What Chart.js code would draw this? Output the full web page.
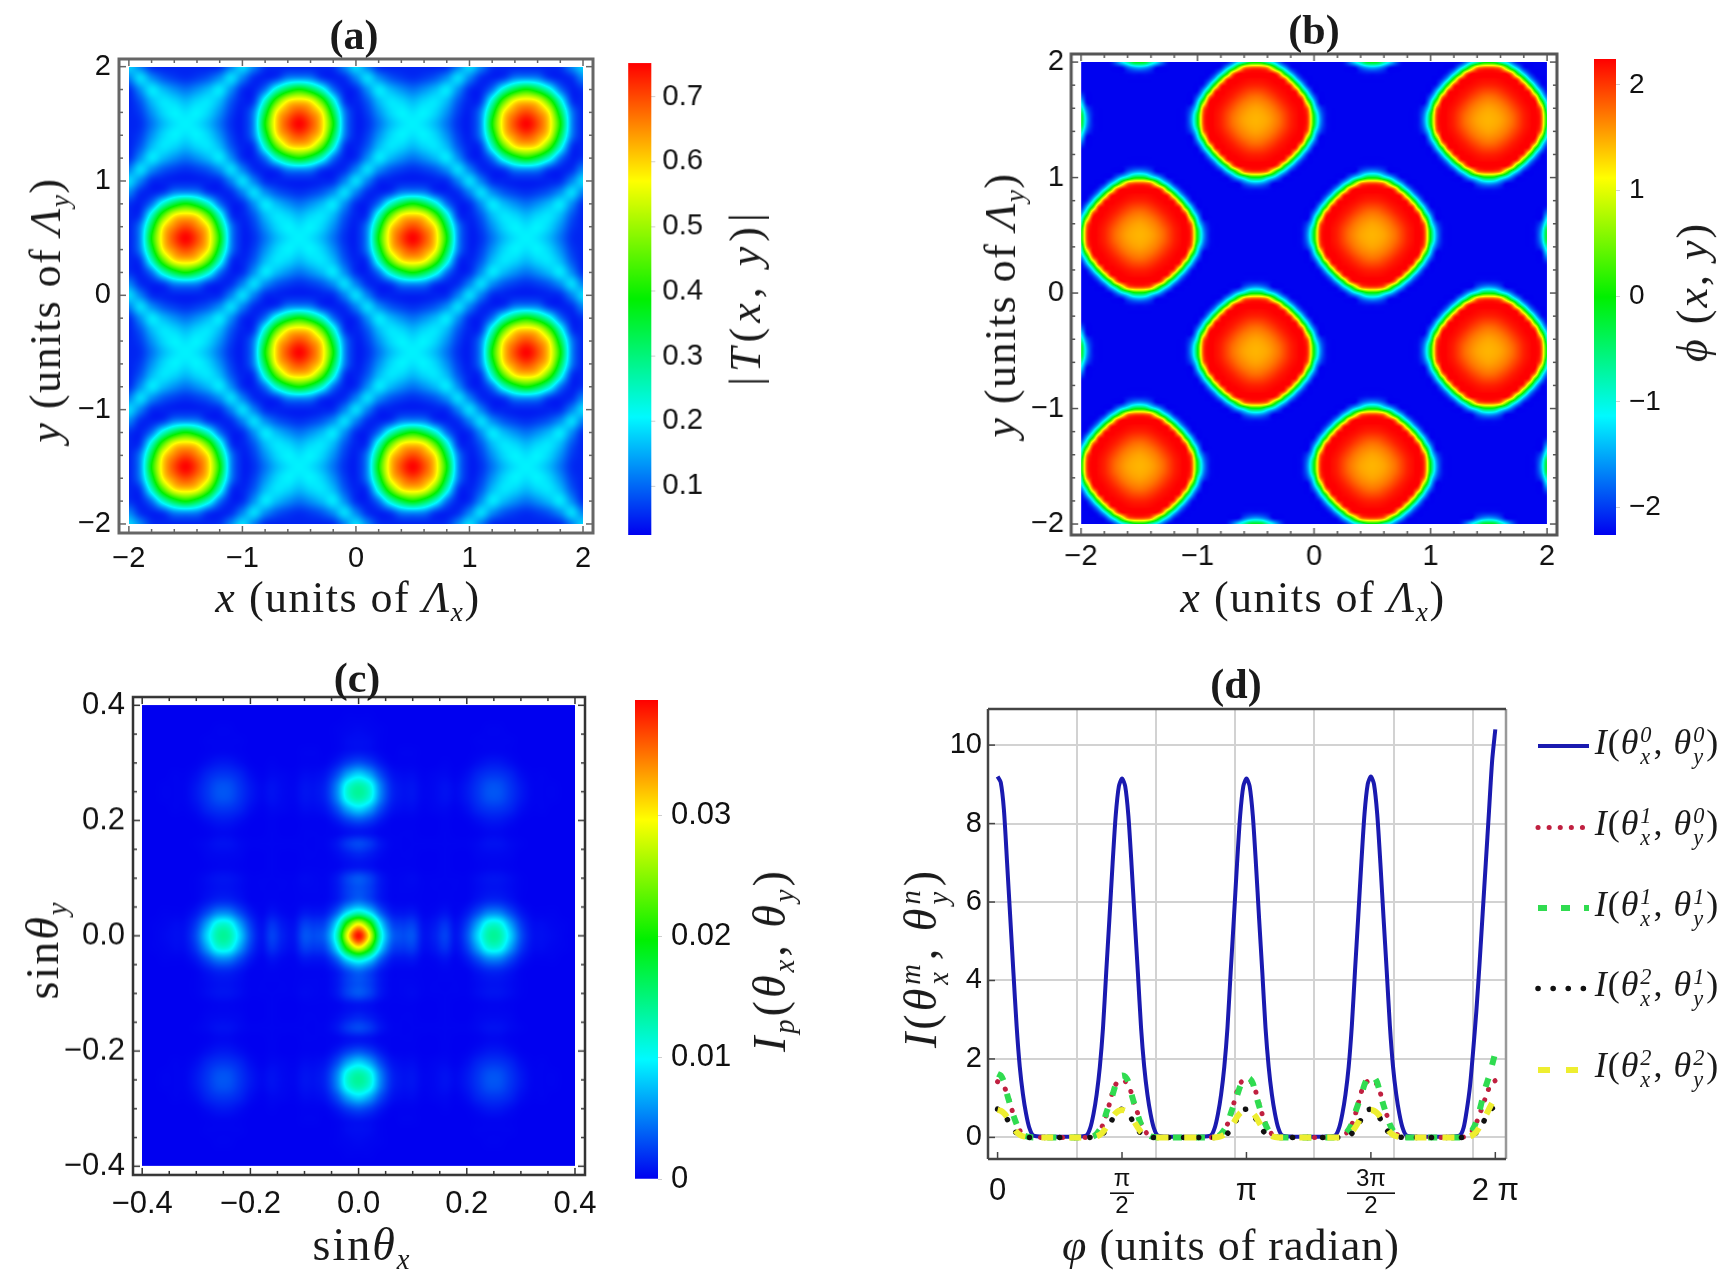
<!DOCTYPE html>
<html>
<head>
<meta charset="utf-8">
<title>Transmission, phase, far field and diffraction orders</title>
<script src="https://cdn.jsdelivr.net/npm/chart.js@4"></script>
<style>
  html, body { margin: 0; padding: 0; background: #fff; }
  #page { position: relative; width: 1724px; height: 1278px; overflow: hidden; background: #fff; }
  #page canvas { position: absolute; }
  .txt { position: absolute; white-space: nowrap; font-family: "Liberation Serif", serif; color: #1a1a1a; line-height: 1; }
  .txt i { font-style: italic; }
  .txt sub { font-size: 62%; vertical-align: baseline; position: relative; top: 0.32em; font-style: italic; }
  .ss { display: inline-flex; flex-direction: column; vertical-align: middle; font-size: 62%; line-height: 0.98; font-style: italic; margin: 0 1px; }
</style>
</head>
<body>
<div id="page"></div>
<script>
// Tick positions and labels
var unitTicks = [-2, -1, 0, 1, 2];
var unitTickLabels = ['\u22122', '\u22121', '0', '1', '2'];
var unitMinorTicks = [-1.8, -1.6, -1.4, -1.2, -0.8, -0.6, -0.4, -0.2, 0.2, 0.4, 0.6, 0.8, 1.2, 1.4, 1.6, 1.8];
var sinTicks = [-0.4, -0.2, 0, 0.2, 0.4];
var sinTickLabels = ['\u22120.4', '\u22120.2', '0.0', '0.2', '0.4'];
var sinMinorTicks = [-0.35, -0.3, -0.25, -0.15, -0.1, -0.05, 0.05, 0.1, 0.15, 0.25, 0.3, 0.35];

var transmissionBarTicks = [0.1, 0.2, 0.3, 0.4, 0.5, 0.6, 0.7];
var transmissionBarLabels = ['0.1', '0.2', '0.3', '0.4', '0.5', '0.6', '0.7'];
var phaseBarTicks = [-2, -1, 0, 1, 2];
var phaseBarLabels = ['\u22122', '\u22121', '0', '1', '2'];
var intensityBarTicks = [0, 0.01, 0.02, 0.03];
var intensityBarLabels = ['0', '0.01', '0.02', '0.03'];

var phiTicks = [0, 1.5708, 3.1416, 4.7124, 6.2832];
var phiTickLabels = ['0', ['\u03c0', '\u2014', '2'], '\u03c0', ['3\u03c0', '\u2014\u2014', '2'], '2 \u03c0'];
var phiGridLines = [1, 2, 3, 4, 5, 6];
var intensityTicks = [0, 2, 4, 6, 8, 10];

// |T(x,y)| between a bright spot (top left) and the next one (bottom right), step 0.1
var transmissionTile = [
  [.75, .70, .60, .39, .13, .05, .06, .11, .16, .19, .20],
  [.70, .66, .57, .34, .12, .05, .07, .13, .18, .20, .19],
  [.60, .57, .44, .24, .07, .05, .09, .16, .19, .18, .16],
  [.39, .34, .24, .11, .05, .06, .13, .19, .16, .13, .11],
  [.13, .12, .07, .05, .06, .12, .18, .13, .09, .07, .06],
  [.05, .05, .05, .06, .12, .18, .12, .06, .05, .05, .05],
  [.06, .07, .09, .13, .18, .12, .06, .05, .07, .12, .13],
  [.11, .13, .16, .19, .13, .06, .05, .11, .24, .34, .39],
  [.16, .18, .19, .16, .09, .05, .07, .24, .44, .57, .60],
  [.19, .20, .18, .13, .07, .05, .12, .34, .57, .66, .70],
  [.20, .19, .16, .11, .06, .05, .13, .39, .60, .70, .75]
];

// phi(x,y) over one quarter of a phase island, centre at top left, step 0.05
var phaseIsland = [
  [1.45, 1.47, 1.52, 1.62, 1.75, 1.93, 2.10, 2.20, 2.25, 1.90, -.10, -1.50, -2.15],
  [1.47, 1.49, 1.55, 1.65, 1.78, 1.95, 2.11, 2.20, 2.25, 1.85, -.20, -1.60, -2.15],
  [1.52, 1.55, 1.62, 1.72, 1.87, 2.02, 2.15, 2.22, 2.23, 1.60, -.78, -1.85, -2.20],
  [1.62, 1.65, 1.72, 1.84, 1.98, 2.11, 2.20, 2.24, 2.17, .60, -1.25, -2.20, -2.25],
  [1.75, 1.78, 1.87, 1.98, 2.10, 2.18, 2.23, 2.22, 1.55, -.60, -1.80, -2.25, -2.25],
  [1.93, 1.95, 2.02, 2.11, 2.18, 2.22, 2.22, 1.85, -.05, -1.45, -2.20, -2.25, -2.25],
  [2.10, 2.11, 2.15, 2.20, 2.23, 2.22, 1.90, .30, -1.25, -2.10, -2.25, -2.25, -2.25],
  [2.20, 2.20, 2.22, 2.24, 2.22, 1.85, .30, -1.20, -2.00, -2.25, -2.25, -2.25, -2.25],
  [2.25, 2.25, 2.23, 2.17, 1.55, -.05, -1.25, -2.00, -2.25, -2.25, -2.25, -2.25, -2.25],
  [1.90, 1.85, 1.60, .60, -.60, -1.45, -2.10, -2.25, -2.25, -2.25, -2.25, -2.25, -2.25],
  [-.10, -.20, -.78, -1.25, -1.80, -2.20, -2.25, -2.25, -2.25, -2.25, -2.25, -2.25, -2.25],
  [-1.50, -1.60, -1.85, -2.20, -2.25, -2.25, -2.25, -2.25, -2.25, -2.25, -2.25, -2.25, -2.25],
  [-2.15, -2.15, -2.20, -2.25, -2.25, -2.25, -2.25, -2.25, -2.25, -2.25, -2.25, -2.25, -2.25]
];
var phaseBackground = -2.25;

// Ip over the positive quadrant, sin(theta) step 0.02, in units of 1e-4
var farFieldQuadrant = [
  [390, 295, 125, 45, 30, 32, 8, 12, 25, 8, 32, 85, 133, 133, 85, 32, 8, 5, 3, 1, 0],
  [295, 220, 95, 32, 22, 24, 6, 9, 19, 6, 24, 66, 112, 112, 66, 24, 6, 4, 2, 1, 0],
  [125, 95, 40, 12, 8, 9, 2, 3, 7, 2, 10, 30, 52, 52, 30, 10, 2, 1, 1, 0, 0],
  [45, 32, 12, 3, 2, 2, 1, 1, 2, 1, 2, 9, 16, 16, 9, 2, 0, 0, 0, 0, 0],
  [32, 24, 9, 2, 2, 2, 1, 1, 1, 1, 1, 4, 7, 7, 4, 1, 0, 0, 0, 0, 0],
  [34, 25, 9, 2, 2, 3, 1, 1, 1, 1, 1, 4, 7, 7, 4, 1, 0, 0, 0, 0, 0],
  [8, 6, 2, 1, 1, 1, 0, 0, 1, 0, 0, 1, 2, 2, 1, 0, 0, 0, 0, 0, 0],
  [14, 10, 4, 1, 1, 1, 0, 0, 1, 0, 0, 2, 3, 3, 2, 0, 0, 0, 0, 0, 0],
  [28, 21, 8, 2, 1, 1, 1, 1, 1, 1, 1, 3, 6, 6, 3, 1, 0, 0, 0, 0, 0],
  [8, 6, 2, 1, 1, 1, 0, 0, 1, 0, 0, 1, 3, 3, 1, 0, 0, 0, 0, 0, 0],
  [32, 24, 10, 2, 1, 1, 0, 0, 1, 0, 1, 5, 9, 9, 5, 1, 0, 0, 0, 0, 0],
  [85, 66, 30, 9, 4, 4, 1, 2, 3, 1, 5, 14, 20, 20, 14, 5, 1, 1, 0, 0, 0],
  [133, 112, 52, 16, 7, 7, 2, 3, 6, 3, 9, 20, 31, 31, 20, 9, 2, 1, 1, 0, 0],
  [133, 112, 52, 16, 7, 7, 2, 3, 6, 3, 9, 20, 31, 31, 20, 9, 2, 1, 1, 0, 0],
  [85, 66, 30, 9, 4, 4, 1, 2, 3, 1, 5, 14, 20, 20, 14, 5, 1, 1, 0, 0, 0],
  [32, 24, 10, 2, 1, 1, 0, 0, 1, 0, 1, 5, 9, 9, 5, 1, 0, 0, 0, 0, 0],
  [8, 6, 2, 0, 1, 1, 0, 0, 0, 0, 0, 1, 2, 2, 1, 0, 0, 0, 0, 0, 0],
  [5, 4, 1, 0, 0, 0, 0, 0, 0, 0, 0, 1, 1, 1, 1, 0, 0, 0, 0, 0, 0],
  [3, 2, 1, 0, 0, 0, 0, 0, 0, 0, 0, 0, 1, 1, 0, 0, 0, 0, 0, 0, 0],
  [1, 1, 0, 0, 0, 0, 0, 0, 0, 0, 0, 0, 0, 0, 0, 0, 0, 0, 0, 0, 0],
  [0, 0, 0, 0, 0, 0, 0, 0, 0, 0, 0, 0, 0, 0, 0, 0, 0, 0, 0, 0, 0]
];

// Panel (d) samples, one line per peak
var phi = [
  0, .04, .08, .12, .16, .2, .24, .28, .32, .36, .4, .45, .6, .785, .97,
  1.121, 1.171, 1.211, 1.251, 1.291, 1.331, 1.371, 1.411, 1.451, 1.491, 1.531, 1.571, 1.611, 1.651, 1.691, 1.731, 1.771, 1.811, 1.851, 1.891, 1.931, 1.971, 2.021, 2.17, 2.356, 2.54,
  2.692, 2.742, 2.782, 2.822, 2.862, 2.902, 2.942, 2.982, 3.022, 3.062, 3.102, 3.142, 3.182, 3.222, 3.262, 3.302, 3.342, 3.382, 3.422, 3.462, 3.502, 3.542, 3.592, 3.74, 3.927, 4.11,
  4.262, 4.312, 4.352, 4.392, 4.432, 4.472, 4.512, 4.552, 4.592, 4.632, 4.672, 4.712, 4.752, 4.792, 4.832, 4.872, 4.912, 4.952, 4.992, 5.032, 5.072, 5.112, 5.162, 5.31, 5.498, 5.68,
  5.833, 5.883, 5.923, 5.963, 6.003, 6.043, 6.083, 6.123, 6.163, 6.203, 6.243, 6.283
];
var orderI00 = [
  9.2, 9.05, 8.35, 7.0, 5.6, 4.2, 2.85, 1.8, 1.1, .6, .25, .05, .02, .02, .02,
  .05, .25, .6, 1.1, 1.8, 2.8, 4.2, 5.55, 6.95, 8.2, 8.95, 9.15, 8.95, 8.2, 6.95, 5.55, 4.2, 2.8, 1.8, 1.1, .6, .25, .05, .02, .02, .02,
  .05, .25, .6, 1.1, 1.8, 2.8, 4.2, 5.55, 6.95, 8.2, 8.95, 9.15, 8.95, 8.2, 6.95, 5.55, 4.2, 2.8, 1.8, 1.1, .6, .25, .05, .02, .02, .02,
  .05, .25, .6, 1.1, 1.8, 2.85, 4.25, 5.6, 7.0, 8.25, 9.0, 9.2, 9.0, 8.25, 7.0, 5.6, 4.25, 2.85, 1.8, 1.1, .6, .25, .05, .02, .02, .02,
  .05, .25, .7, 1.3, 2.2, 3.2, 4.4, 5.7, 7.0, 8.3, 9.6, 10.4
];
var orderI10 = [
  1.42, 1.38, 1.3, 1.12, .85, .58, .34, .18, .09, .04, .02, 0, 0, 0, 0,
  0, .01, .04, .09, .18, .33, .55, .85, 1.15, 1.35, 1.43, 1.45, 1.43, 1.33, 1.12, .82, .6, .35, .19, .09, .04, .01, 0, 0, 0, 0,
  0, .01, .04, .09, .19, .34, .57, .87, 1.17, 1.38, 1.45, 1.46, 1.45, 1.36, 1.15, .85, .58, .34, .18, .09, .04, .01, 0, 0, 0, 0,
  0, .01, .04, .09, .18, .33, .56, .86, 1.16, 1.36, 1.43, 1.45, 1.43, 1.34, 1.13, .83, .58, .34, .18, .09, .04, .01, 0, 0, 0, 0,
  0, .01, .05, .1, .2, .36, .6, .78, 1.05, 1.25, 1.38, 1.45
];
var orderI11 = [
  1.62, 1.58, 1.42, 1.1, .82, .56, .34, .18, .08, .03, .01, 0, 0, 0, 0,
  0, .01, .03, .09, .2, .34, .62, .85, 1.08, 1.35, 1.52, 1.58, 1.55, 1.42, 1.1, .82, .56, .33, .17, .08, .03, .01, 0, 0, 0, 0,
  0, .01, .03, .09, .2, .34, .6, .83, 1.06, 1.3, 1.48, 1.52, 1.5, 1.38, 1.08, .8, .55, .33, .17, .08, .03, .01, 0, 0, 0, 0,
  0, .01, .03, .09, .2, .34, .62, .85, 1.08, 1.35, 1.52, 1.58, 1.54, 1.4, 1.1, .82, .56, .33, .17, .08, .03, .01, 0, 0, 0, 0,
  0, .01, .04, .1, .22, .4, .68, 1, 1.3, 1.55, 1.85, 2.16
];
var orderI21 = [
  .72, .7, .6, .47, .32, .2, .11, .05, .02, .01, 0, 0, 0, 0, 0,
  0, 0, .01, .02, .05, .1, .19, .32, .47, .6, .7, .72, .7, .6, .47, .32, .19, .1, .05, .02, .01, 0, 0, 0, 0, 0,
  0, 0, .01, .02, .05, .1, .19, .32, .47, .6, .7, .72, .7, .6, .47, .32, .19, .1, .05, .02, .01, 0, 0, 0, 0, 0,
  0, 0, .01, .02, .05, .1, .19, .32, .47, .6, .7, .72, .7, .6, .47, .32, .19, .1, .05, .02, .01, 0, 0, 0, 0, 0,
  0, 0, .01, .03, .06, .12, .22, .36, .5, .64, .74, .82
];
var orderI22 = [
  .7, .68, .62, .52, .38, .25, .14, .07, .03, .01, 0, 0, 0, 0, 0,
  0, 0, .01, .03, .07, .14, .25, .38, .52, .62, .68, .7, .68, .62, .52, .38, .25, .14, .07, .03, .01, 0, 0, 0, 0, 0,
  0, 0, .01, .03, .07, .14, .25, .38, .52, .62, .68, .7, .68, .62, .52, .38, .25, .14, .07, .03, .01, 0, 0, 0, 0, 0,
  0, 0, .01, .03, .07, .14, .25, .38, .52, .62, .68, .7, .68, .62, .52, .38, .25, .14, .07, .03, .01, 0, 0, 0, 0, 0,
  0, 0, .01, .03, .07, .14, .26, .4, .56, .72, .88, 1.0
];

var sansFont = 'Liberation Sans';
var colorStops = [[0, 0, 0, 240], [0.25, 0, 250, 255], [0.5, 0, 240, 0], [0.75, 255, 255, 0], [1, 255, 0, 0]];

// Folds an index onto a triangle wave so a tile repeats with mirroring
function foldIndex(index, span) {
  var m = ((index % (2 * span)) + 2 * span) % (2 * span);
  return m > span ? 2 * span - m : m;
}

function buildTransmissionGrid() {
  var rows = [];
  for (var j = 0; j <= 40; j++) {
    var row = [];
    for (var i = 0; i <= 40; i++) {
      row.push(transmissionTile[foldIndex(j - 5, 10)][foldIndex(i - 5, 10)]);
    }
    rows.push(row);
  }
  return rows;
}

function islandValue(v, u) {
  return (u <= 12 && v <= 12) ? phaseIsland[v][u] : phaseBackground;
}

function buildPhaseGrid() {
  var rows = [];
  for (var j = 0; j <= 80; j++) {
    var row = [];
    for (var i = 0; i <= 80; i++) {
      var u = foldIndex(i - 10, 20);
      var v = foldIndex(j - 10, 20);
      row.push(Math.max(islandValue(v, u), islandValue(20 - v, 20 - u)));
    }
    rows.push(row);
  }
  return rows;
}

function buildFarFieldGrid() {
  var rows = [];
  for (var j = 0; j <= 40; j++) {
    var row = [];
    for (var i = 0; i <= 40; i++) {
      row.push(farFieldQuadrant[Math.abs(j - 20)][Math.abs(i - 20)] / 10000);
    }
    rows.push(row);
  }
  return rows;
}

function colorAt(t) {
  t = Math.min(1, Math.max(0, t));
  for (var k = 1; k < colorStops.length; k++) {
    if (t <= colorStops[k][0]) {
      var a = colorStops[k - 1], b = colorStops[k];
      var f = (t - a[0]) / (b[0] - a[0]);
      return [a[1] + f * (b[1] - a[1]), a[2] + f * (b[2] - a[2]), a[3] + f * (b[3] - a[3])];
    }
  }
  return colorStops[colorStops.length - 1].slice(1);
}

function cubicWeights(f) {
  return [
    0.5 * (-f + 2 * f * f - f * f * f),
    0.5 * (2 - 5 * f * f + 3 * f * f * f),
    0.5 * (f + 4 * f * f - 3 * f * f * f),
    0.5 * (-f * f + f * f * f)
  ];
}

// Smooth read-out of a grid at fractional row and column positions
function sampleGrid(grid, col, row) {
  var maxRow = grid.length - 1, maxCol = grid[0].length - 1;
  var c0 = Math.floor(col), r0 = Math.floor(row);
  var wc = cubicWeights(col - c0), wr = cubicWeights(row - r0);
  var sum = 0;
  for (var m = 0; m < 4; m++) {
    var line = grid[Math.min(maxRow, Math.max(0, r0 - 1 + m))];
    for (var n = 0; n < 4; n++) {
      sum += wr[m] * wc[n] * line[Math.min(maxCol, Math.max(0, c0 - 1 + n))];
    }
  }
  return sum;
}

// Paints the density field through the chart's scales
var densityPlugin = {
  id: 'density',
  beforeDatasetsDraw: function (chart, args, opts) {
    var xs = chart.scales.x, ys = chart.scales.y;
    var left = Math.round(xs.getPixelForValue(opts.xMin));
    var right = Math.round(xs.getPixelForValue(opts.xMax));
    var top = Math.round(ys.getPixelForValue(opts.yMax));
    var bottom = Math.round(ys.getPixelForValue(opts.yMin));
    var w = right - left, h = bottom - top;
    var image = chart.ctx.createImageData(w, h);
    var colSpan = opts.grid[0].length - 1, rowSpan = opts.grid.length - 1;
    for (var py = 0; py < h; py++) {
      var yValue = ys.getValueForPixel(top + py + 0.5);
      var row = (yValue - opts.yMin) / (opts.yMax - opts.yMin) * rowSpan;
      for (var px = 0; px < w; px++) {
        var xValue = xs.getValueForPixel(left + px + 0.5);
        var col = (xValue - opts.xMin) / (opts.xMax - opts.xMin) * colSpan;
        var value = sampleGrid(opts.grid, col, row);
        var c = colorAt((value - opts.vMin) / (opts.vMax - opts.vMin));
        var o = 4 * (py * w + px);
        image.data[o] = c[0];
        image.data[o + 1] = c[1];
        image.data[o + 2] = c[2];
        image.data[o + 3] = 255;
      }
    }
    chart.ctx.putImageData(image, left, top);
  }
};

// Frame with inward ticks on the chosen sides
var framePlugin = {
  id: 'frameTicks',
  afterDatasetsDraw: function (chart, args, opts) {
    var ctx = chart.ctx, a = chart.chartArea, xs = chart.scales.x, ys = chart.scales.y;
    var sides = opts.sides;
    function mark(x1, y1, x2, y2) {
      ctx.beginPath();
      ctx.moveTo(x1, y1);
      ctx.lineTo(x2, y2);
      ctx.stroke();
    }
    function ticks(values, length) {
      values.forEach(function (v) {
        if (sides.indexOf('b') >= 0) mark(xs.getPixelForValue(v), a.bottom, xs.getPixelForValue(v), a.bottom - length);
        if (sides.indexOf('t') >= 0) mark(xs.getPixelForValue(v), a.top, xs.getPixelForValue(v), a.top + length);
      });
    }
    function yTicks(values, length) {
      values.forEach(function (v) {
        if (sides.indexOf('l') >= 0) mark(a.left, ys.getPixelForValue(v), a.left + length, ys.getPixelForValue(v));
        if (sides.indexOf('r') >= 0) mark(a.right, ys.getPixelForValue(v), a.right - length, ys.getPixelForValue(v));
      });
    }
    ctx.save();
    ctx.strokeStyle = opts.color;
    ctx.lineWidth = 1.5;
    ticks(opts.xMajor, 7);
    yTicks(opts.yMajor, 7);
    ticks(opts.xMinor || [], 4);
    yTicks(opts.yMinor || [], 4);
    ctx.lineWidth = opts.width;
    if (opts.rightColor) {
      ctx.strokeStyle = opts.rightColor;
      mark(a.right, a.top, a.right, a.bottom);
      ctx.strokeStyle = opts.color;
      mark(a.right, a.top, a.left, a.top);
      mark(a.left, a.top, a.left, a.bottom);
      mark(a.left, a.bottom, a.right, a.bottom);
    } else {
      ctx.strokeRect(a.left, a.top, a.right - a.left, a.bottom - a.top);
    }
    ctx.restore();
  }
};

// Line samples of the legend, styled from the datasets themselves
var legendPlugin = {
  id: 'legendSamples',
  afterDraw: function (chart, args, opts) {
    var ctx = chart.ctx;
    ctx.save();
    chart.data.datasets.forEach(function (ds, index) {
      ctx.beginPath();
      ctx.strokeStyle = ds.borderColor;
      ctx.lineWidth = ds.borderWidth;
      ctx.lineCap = ds.borderCapStyle || 'butt';
      ctx.setLineDash(ds.borderDash || []);
      ctx.moveTo(opts.x1, opts.rows[index]);
      ctx.lineTo(opts.x2, opts.rows[index]);
      ctx.stroke();
    });
    ctx.restore();
  }
};

function addCanvas(left, top, width, height) {
  var canvas = document.createElement('canvas');
  canvas.width = width;
  canvas.height = height;
  canvas.style.left = left + 'px';
  canvas.style.top = top + 'px';
  canvas.style.width = width + 'px';
  canvas.style.height = height + 'px';
  document.getElementById('page').appendChild(canvas);
  return canvas.getContext('2d');
}

function fixedAxis(size, vertical, values) {
  return {
    afterBuildTicks: function (scale) {
      scale.ticks = values.map(function (v) { return { value: v }; });
    },
    afterFit: function (scale) {
      if (vertical) scale.width = size; else scale.height = size;
      scale.paddingLeft = scale.paddingRight = scale.paddingTop = scale.paddingBottom = 0;
    }
  };
}

function densityPanel(cfg) {
  var padLeft = 90, padBottom = 60, margin = 6, extraRight = 34;
  var ctx = addCanvas(cfg.frame.l - padLeft - margin, cfg.frame.t - margin,
    cfg.frame.r - cfg.frame.l + padLeft + margin * 2 + extraRight, cfg.frame.b - cfg.frame.t + padBottom + margin);
  var xAxis = fixedAxis(padBottom, false, cfg.xTicks);
  var yAxis = fixedAxis(padLeft, true, cfg.yTicks);
  var span = cfg.grid.length - 1;
  var points = [];
  cfg.grid.forEach(function (row, j) {
    row.forEach(function (v, i) {
      points.push({
        x: cfg.xMin + (cfg.xMax - cfg.xMin) * i / span,
        y: cfg.yMin + (cfg.yMax - cfg.yMin) * j / span,
        v: v
      });
    });
  });
  return new Chart(ctx, {
    type: 'scatter',
    plugins: [densityPlugin, framePlugin],
    data: { datasets: [{ label: cfg.name, data: points, pointRadius: 0, pointHoverRadius: 0 }] },
    options: {
      responsive: false,
      animation: false,
      devicePixelRatio: 1,
      layout: { padding: { left: margin, top: margin, right: margin + extraRight, bottom: 0 } },
      events: [],
      scales: {
        x: Object.assign({
          type: 'linear', min: cfg.xRange[0], max: cfg.xRange[1],
          grid: { display: false }, border: { display: false },
          ticks: {
            autoSkip: false, maxRotation: 0, padding: cfg.xPad, color: '#111',
            font: { family: sansFont, size: cfg.fontSize },
            callback: function (value, index) { return cfg.xLabels[index]; }
          }
        }, xAxis),
        y: Object.assign({
          type: 'linear', min: cfg.yRange[0], max: cfg.yRange[1],
          grid: { display: false }, border: { display: false },
          ticks: {
            autoSkip: false, padding: cfg.yPad, color: '#111',
            font: { family: sansFont, size: cfg.fontSize },
            callback: function (value, index) { return cfg.yLabels[index]; }
          }
        }, yAxis)
      },
      plugins: {
        legend: { display: false },
        tooltip: { enabled: false },
        density: { grid: cfg.grid, xMin: cfg.xMin, xMax: cfg.xMax, yMin: cfg.yMin, yMax: cfg.yMax, vMin: cfg.vMin, vMax: cfg.vMax },
        frameTicks: {
          sides: 'tblr', color: cfg.frameColor, width: cfg.frameWidth,
          xMajor: cfg.xTicks, yMajor: cfg.yTicks, xMinor: cfg.xMinor, yMinor: cfg.yMinor
        }
      }
    }
  });
}

// Colour scale drawn as one floating bar on its own value axis
function colorBar(cfg) {
  var axisWidth = 90, margin = 20;
  var ctx = addCanvas(cfg.l - margin, cfg.t - margin, cfg.r - cfg.l + axisWidth + margin * 2, cfg.b - cfg.t + margin * 2);
  var yAxis = fixedAxis(axisWidth, true, cfg.ticks);
  return new Chart(ctx, {
    type: 'bar',
    data: {
      labels: [cfg.name],
      datasets: [{
        label: cfg.name,
        data: [[cfg.min, cfg.max]],
        barPercentage: 1,
        categoryPercentage: 1,
        backgroundColor: function (c) {
          var area = c.chart.chartArea;
          if (!area) return '#0000f0';
          var g = c.chart.ctx.createLinearGradient(0, area.bottom, 0, area.top);
          colorStops.forEach(function (s) {
            g.addColorStop(s[0], 'rgb(' + s[1] + ',' + s[2] + ',' + s[3] + ')');
          });
          return g;
        }
      }]
    },
    options: {
      responsive: false,
      animation: false,
      devicePixelRatio: 1,
      events: [],
      layout: { padding: margin },
      scales: {
        x: { display: false },
        y: Object.assign({
          type: 'linear', position: 'right', min: cfg.min, max: cfg.max,
          grid: { drawOnChartArea: false, drawTicks: true, tickLength: 4, tickColor: '#cfcfcf' },
          border: { display: false },
          ticks: {
            autoSkip: false, padding: cfg.pad, color: '#111',
            font: { family: sansFont, size: cfg.fontSize },
            callback: function (value, index) { return cfg.labels[index]; }
          }
        }, yAxis)
      },
      plugins: { legend: { display: false }, tooltip: { enabled: false } }
    }
  });
}

function toPoints(values) {
  return values.map(function (v, i) { return { x: phi[i], y: v }; });
}

function orderDataset(name, values, color, width, dash, cap, order) {
  return {
    label: name, data: toPoints(values), borderColor: color, borderWidth: width,
    borderDash: dash, borderCapStyle: cap, borderJoinStyle: 'round', pointRadius: 0, tension: 0.25, order: order
  };
}

function diffractionPanel() {
  var frame = { l: 988, r: 1506, t: 708.5, b: 1158.5 };
  var padLeft = 66, padBottom = 70, margin = 6, right = 94;
  var ctx = addCanvas(frame.l - padLeft - margin, frame.t - margin,
    frame.r - frame.l + padLeft + margin + right, frame.b - frame.t + padBottom + margin);
  var xValues = phiTicks.concat(phiGridLines).sort(function (a, b) { return a - b; });
  new Chart(ctx, {
    type: 'line',
    plugins: [framePlugin, legendPlugin],
    data: {
      datasets: [
        orderDataset('I(0,0)', orderI00, '#1a1ab0', 4, [], 'butt', 5),
        orderDataset('I(1,0)', orderI10, '#c02040', 5, [0.1, 11], 'round', 4),
        orderDataset('I(1,1)', orderI11, '#30dc50', 6, [9, 14], 'butt', 3),
        orderDataset('I(2,1)', orderI21, '#111111', 5.5, [0.1, 15], 'round', 2),
        orderDataset('I(2,2)', orderI22, '#eeee30', 6, [12, 16], 'butt', 1)
      ]
    },
    options: {
      responsive: false,
      animation: false,
      devicePixelRatio: 1,
      events: [],
      layout: { padding: { left: margin, top: margin, right: right, bottom: 0 } },
      scales: {
        x: Object.assign({
          type: 'linear', min: -0.121, max: 6.418,
          grid: {
            drawTicks: false, lineWidth: 2,
            color: function (c) { return (c.tick && phiGridLines.indexOf(c.tick.value) >= 0) ? '#d2d2d2' : 'rgba(0,0,0,0)'; }
          },
          border: { display: false },
          ticks: {
            autoSkip: false, maxRotation: 0, padding: 14, color: '#111',
            font: function (c) {
              var i = c.tick ? phiTicks.indexOf(c.tick.value) : -1;
              return (i === 1 || i === 3)
                ? { family: sansFont, size: 24, lineHeight: 0.55 }
                : { family: sansFont, size: 31 };
            },
            callback: function (value) {
              var i = phiTicks.indexOf(value);
              return i >= 0 ? phiTickLabels[i] : '';
            }
          }
        }, fixedAxis(padBottom, false, xValues)),
        y: Object.assign({
          type: 'linear', min: -0.55, max: 10.92,
          grid: { drawTicks: false, lineWidth: 2, color: '#d2d2d2' },
          border: { display: false },
          ticks: { autoSkip: false, padding: 6, color: '#111', font: { family: sansFont, size: 29 } }
        }, fixedAxis(padLeft, true, intensityTicks))
      },
      plugins: {
        legend: { display: false },
        tooltip: { enabled: false },
        frameTicks: {
          sides: 'bl', color: '#444', rightColor: '#999', width: 2.5,
          xMajor: phiTicks, yMajor: intensityTicks
        },
        legendSamples: { x1: padLeft + margin + (1538 - frame.l), x2: padLeft + margin + (1589 - frame.l), rows: [43, 124.5, 205, 285.5, 367] }
      }
    }
  });
}

densityPanel({
  name: '|T(x,y)|', frame: { l: 118.6, r: 593, t: 59, b: 533 }, grid: buildTransmissionGrid(),
  xMin: -2, xMax: 2, yMin: -2, yMax: 2, vMin: 0.0244, vMax: 0.752,
  xRange: [-2.087, 2.088], yRange: [-2.079, 2.067],
  xTicks: unitTicks, yTicks: unitTicks, xLabels: unitTickLabels, yLabels: unitTickLabels,
  xMinor: unitMinorTicks, yMinor: unitMinorTicks,
  fontSize: 29, xPad: 1, yPad: 0, frameColor: '#666', frameWidth: 3
});
densityPanel({
  name: 'phi(x,y)', frame: { l: 1071, r: 1556.5, t: 54.3, b: 535.5 }, grid: buildPhaseGrid(),
  xMin: -2, xMax: 2, yMin: -2, yMax: 2, vMin: -2.26, vMax: 2.244,
  xRange: [-2.085, 2.085], yRange: [-2.095, 2.07],
  xTicks: unitTicks, yTicks: unitTicks, xLabels: unitTickLabels, yLabels: unitTickLabels,
  xMinor: unitMinorTicks, yMinor: unitMinorTicks,
  fontSize: 29, xPad: -3, yPad: -1, frameColor: '#555', frameWidth: 3
});
densityPanel({
  name: 'Ip', frame: { l: 132.6, r: 585, t: 697, b: 1174.6 }, grid: buildFarFieldGrid(),
  xMin: -0.4, xMax: 0.4, yMin: -0.4, yMax: 0.4, vMin: 0, vMax: 0.0395,
  xRange: [-0.417, 0.4185], yRange: [-0.415, 0.4144],
  xTicks: sinTicks, yTicks: sinTicks, xLabels: sinTickLabels, yLabels: sinTickLabels,
  xMinor: sinMinorTicks, yMinor: sinMinorTicks,
  fontSize: 31, xPad: 3, yPad: 0, frameColor: '#333', frameWidth: 2.5
});
colorBar({
  name: '|T(x,y)| scale', l: 628.3, r: 651.7, t: 63.3, b: 534.7, min: 0.0244, max: 0.752,
  ticks: transmissionBarTicks, labels: transmissionBarLabels, fontSize: 29, pad: 7
});
colorBar({
  name: 'phi scale', l: 1593.5, r: 1616.4, t: 59.2, b: 535.5, min: -2.26, max: 2.244,
  ticks: phaseBarTicks, labels: phaseBarLabels, fontSize: 28, pad: 9
});
colorBar({
  name: 'Ip scale', l: 635, r: 658, t: 700, b: 1179.4, min: 0, max: 0.0395,
  ticks: intensityBarTicks, labels: intensityBarLabels, fontSize: 31, pad: 9
});
diffractionPanel();

function ss(up, down) {
  return '<span class="ss"><span>' + up + '</span><span>' + down + '</span></span>';
}

// Titles and math labels
var textItems = [
  { html: '<b>(a)</b>', x: 354, y: 35, size: 42 },
  { html: '<b>(b)</b>', x: 1314, y: 30, size: 42 },
  { html: '<b>(c)</b>', x: 357, y: 678, size: 42 },
  { html: '<b>(d)</b>', x: 1236, y: 684, size: 42 },
  { html: '<i>x</i> (units of <i>\u039b<sub>x</sub></i>)', x: 348, y: 598, size: 44, sp: 1.5 },
  { html: '<i>y</i> (units of <i>\u039b<sub>y</sub></i>)', x: 46, y: 310, size: 44, sp: 1.5, rot: -90 },
  { html: '|<i>T</i>(<i>x</i>, <i>y</i>)|', x: 746, y: 297, size: 44, sp: 5, rot: -90 },
  { html: '<i>x</i> (units of <i>\u039b<sub>x</sub></i>)', x: 1313, y: 598, size: 44, sp: 1.5 },
  { html: '<i>y</i> (units of <i>\u039b<sub>y</sub></i>)', x: 1001, y: 305, size: 44, sp: 1.5, rot: -90 },
  { html: '<i>\u03d5</i> (<i>x</i>, <i>y</i>)', x: 1693, y: 292, size: 44, sp: 2, rot: -90 },
  { html: 'sin<i>\u03b8<sub>x</sub></i>', x: 362, y: 1245, size: 46, sp: 2 },
  { html: 'sin<i>\u03b8<sub>y</sub></i>', x: 43, y: 950, size: 46, sp: 2, rot: -90 },
  { html: '<i>I<sub>p</sub></i>(<i>\u03b8<sub>x</sub></i>, <i>\u03b8<sub>y</sub></i>)', x: 770, y: 960, size: 46, sp: 3, rot: -90 },
  { html: '<i>\u03c6</i> (units of radian)', x: 1231, y: 1246, size: 44, sp: 1 },
  { html: '<i>I</i>(<i>\u03b8</i>' + ss('m', 'x') + ', <i>\u03b8</i>' + ss('n', 'y') + ')', x: 925, y: 958, size: 46, sp: 3, rot: -90 },
  { html: '<i>I</i>(<i>\u03b8</i>' + ss('0', 'x') + ', <i>\u03b8</i>' + ss('0', 'y') + ')', x: 1657, y: 746, size: 36, sp: 1 },
  { html: '<i>I</i>(<i>\u03b8</i>' + ss('1', 'x') + ', <i>\u03b8</i>' + ss('0', 'y') + ')', x: 1657, y: 827, size: 36, sp: 1 },
  { html: '<i>I</i>(<i>\u03b8</i>' + ss('1', 'x') + ', <i>\u03b8</i>' + ss('1', 'y') + ')', x: 1657, y: 908, size: 36, sp: 1 },
  { html: '<i>I</i>(<i>\u03b8</i>' + ss('2', 'x') + ', <i>\u03b8</i>' + ss('1', 'y') + ')', x: 1657, y: 988, size: 36, sp: 1 },
  { html: '<i>I</i>(<i>\u03b8</i>' + ss('2', 'x') + ', <i>\u03b8</i>' + ss('2', 'y') + ')', x: 1657, y: 1069, size: 36, sp: 1 }
];

textItems.forEach(function (item) {
  var el = document.createElement('div');
  el.className = 'txt';
  el.innerHTML = item.html;
  el.style.left = item.x + 'px';
  el.style.top = item.y + 'px';
  el.style.fontSize = item.size + 'px';
  if (item.sp) el.style.letterSpacing = item.sp + 'px';
  el.style.transform = 'translate(-50%, -50%)' + (item.rot ? ' rotate(' + item.rot + 'deg)' : '');
  document.getElementById('page').appendChild(el);
});
</script>
</body>
</html>
